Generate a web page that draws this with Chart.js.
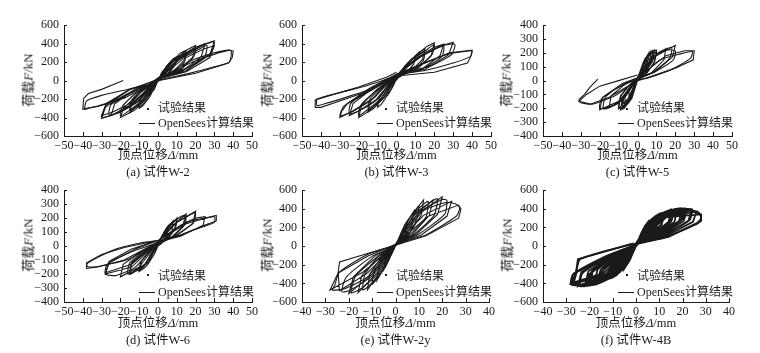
<!DOCTYPE html>
<html>
<head>
<meta charset="utf-8">
<script src="https://cdn.jsdelivr.net/npm/chart.js@4.4.0/dist/chart.umd.min.js"></script>
<style>
  body { margin: 0; background: #fff; width: 760px; height: 353px; overflow: hidden; position: relative;
         font-family: "Liberation Serif", "Noto Sans CJK SC", serif; color: #1a1a1a; }
  canvas { position: absolute; }
  .lbl { position: absolute; white-space: nowrap; line-height: 1; transform: translate(0, -50%); }
  .mid { transform: translate(-50%, -50%); }
  .rot { transform: translate(-50%, -50%) rotate(-90deg); }
  .dot { position: absolute; width: 2px; height: 2px; background: #1a1a1a; }
  .dash { position: absolute; height: 0; border-top: 1px solid #1a1a1a; }
</style>
</head>
<body>
<script>
// panel captions, axis ranges and legend names
const captions = ['(a) 试件W-2', '(b) 试件W-3', '(c) 试件W-5', '(d) 试件W-6', '(e) 试件W-2y', '(f) 试件W-4B'];
const xLimits = [50, 50, 50, 50, 40, 40];
const yLimits = [600, 600, 400, 400, 600, 600];
const yStep = [200, 200, 100, 100, 200, 200];
const seriesNames = ['试验结果', 'OpenSees计算结果'];

// hysteresis curves, [displacement mm, load kN]
const w2Test = [[0,0],[2,90],[4,135],[5,150],[4.6,100],[2.5,40],[0,0],[-2,-95],[-4,-145],[-5,-160],[-4.6,-105],[-2.5,-40],[0,10],
  [4.5,155],[8,235],[10,260],[9.2,170],[5,65],[0,5],[-4.5,-180],[-8,-270],[-10,-300],[-9.2,-195],[-5,-75],[0,10],
  [7,200],[12,300],[15,330],[13.8,215],[7.5,85],[0,10],[-7,-210],[-12,-315],[-15,-350],[-13.8,-230],[-7.5,-90],[0,15],
  [9,230],[16,340],[20,380],[18.4,250],[10,95],[0,15],[-9,-240],[-16,-360],[-20,-400],[-18.4,-300],[-10,-140],[0,10],
  [11,240],[20,360],[25,400],[23,260],[12.5,100],[0,20],[-11,-230],[-20,-340],[-25,-380],[-23,-250],[-12.5,-95],[0,20],
  [13,260],[24,390],[30,430],[27.6,280],[15,110],[0,20],[-13,-245],[-24,-370],[-30,-410],[-27.6,-265],[-15,-100],[0,15],
  [13,230],[24,340],[30,380],[27.6,250],[15,95],[0,15],[-13,-230],[-24,-340],[-30,-380],[-27.6,-250],[-15,-95],[0,10],
  [18,200],[32,300],[38,330],[40,320],[39.5,250],[37.5,190],[20,80],[0,0],[-18,-190],[-32,-280],[-38,-300],[-40,-310],
  [-39.5,-190],[-37,-140],[-30,-95],[-24,-45],[-18.5,0]];
const w2Sim = [[0,0],[3,110],[6,190],[10,255],[9,180],[5,70],[0,10],[-4,-140],[-7,-230],[-10,-290],[-9,-190],[-5,-70],[0,20],
  [8,200],[15,300],[20,360],[19,260],[12,120],[0,30],[-8,-200],[-15,-320],[-20,-380],[-19,-280],[-12,-140],[0,20],
  [12,240],[22,360],[29,420],[30,410],[28,300],[16,140],[0,30],[-12,-230],[-22,-350],[-29,-400],[-30,-390],[-28,-290],[-16,-140],[0,10],
  [16,200],[28,290],[37,330],[39,320],[38,200],[30,150],[15,70],[0,0],[-15,-140],[-28,-250],[-37,-300],[-39,-310],[-38,-220],
  [-30,-160],[-15,-90],[0,-10],
  [10,210],[20,320],[26,380],[25,270],[14,120],[0,20],[-10,-220],[-20,-340],[-26,-370],[-25,-260],[-13,-120],[0,10],
  [6,170],[12,270],[15,300],[14,200],[7,70],[0,10],[-6,-180],[-12,-290],[-15,-320],[-14,-210],[-7,-80],[0,0]];

const w3Test = [[0,0],[2,80],[4,140],[5,160],[4.6,110],[2.5,50],[0,20],[-2,-70],[-4,-140],[-5,-160],[-4.6,-100],[-2.5,-30],[0,30],
  [4.5,160],[8,235],[10,260],[9.2,180],[5,80],[0,30],[-4.5,-150],[-8,-255],[-10,-290],[-9.2,-190],[-5,-70],[0,40],
  [7,210],[12,310],[15,340],[13.8,230],[7.5,100],[0,40],[-7,-190],[-12,-300],[-15,-340],[-13.8,-220],[-7.5,-80],[0,50],
  [9,250],[16,370],[20,410],[18.4,270],[10,110],[0,50],[-9,-220],[-16,-350],[-20,-400],[-18.4,-260],[-10,-90],[0,60],
  [11,250],[20,360],[25,395],[23,270],[12.5,110],[0,60],[-11,-210],[-20,-330],[-25,-380],[-23,-250],[-12.5,-80],[0,60],
  [13,260],[24,380],[30,415],[27.6,280],[15,120],[0,60],[-13,-200],[-24,-340],[-30,-400],[-29,-330],[-26,-250],[-14,-80],[0,70],
  [16,200],[28,300],[36,320],[40,330],[39.5,270],[37.5,190],[20,90],[0,50],[-16,-120],[-30,-220],[-40,-290],[-43,-290],
  [-43,-210],[-35,-160],[-20,-70],[-5,40],[0,90]];
const w3Sim = [[0,30],[8,220],[15,320],[20,390],[19,290],[12,150],[0,60],[-8,-190],[-15,-310],[-20,-380],[-19,-270],[-12,-130],[0,50],
  [12,250],[22,360],[30,400],[31,380],[29,280],[17,150],[0,70],[-12,-190],[-22,-320],[-29,-380],[-30,-380],[-28,-280],[-16,-120],[0,60],
  [16,200],[28,290],[38,320],[40,320],[39,260],[30,190],[15,110],[0,60],[-15,-100],[-28,-190],[-38,-250],[-42,-270],[-42,-200],
  [-30,-130],[-15,-50],[0,60],
  [10,230],[20,340],[25,370],[24,260],[13,120],[0,60],[-10,-200],[-20,-330],[-25,-360],[-24,-240],[-12,-90],[0,50],
  [6,190],[12,290],[15,320],[14,210],[7,90],[0,40],[-6,-170],[-12,-280],[-15,-320],[-14,-200],[-7,-60],[0,40]];

const w5Test = [[0,0],[1.5,60],[3,120],[2.5,60],[0,0],[-1.5,-55],[-3,-110],[-2.5,-55],[0,10],
  [2.5,100],[5,170],[4.5,90],[2,20],[0,0],[-2.5,-90],[-5,-160],[-4.5,-80],[-2,-20],[0,10],
  [3.5,130],[7,210],[6.5,130],[3,40],[0,10],[-4,-120],[-8,-195],[-7.5,-110],[-3,-30],[0,20],
  [4,150],[8,215],[7.5,150],[4,60],[0,10],[-4,-140],[-8,-205],[-7.5,-130],[-4,-50],[0,10],
  [3,130],[6,200],[5.5,140],[2.5,50],[0,0],[-3,-130],[-7,-200],[-6.5,-120],[-3,-40],[0,10],
  [5,140],[10,210],[9,130],[4,40],[0,15],[-5,-130],[-10,-200],[-9,-110],[-4,-30],[0,20],
  [4,160],[9,220],[8,140],[3,40],[0,10],[-5,-150],[-9,-210],[-8,-130],[-3,-30],[0,20],
  [8,160],[15,230],[14,150],[7,50],[0,10],[-8,-140],[-15,-195],[-14,-110],[-6,-20],[0,20],
  [10,180],[20,255],[18.5,170],[9,60],[0,10],[-10,-150],[-20,-210],[-18.5,-120],[-8,-20],[0,20],
  [15,180],[25,215],[30,215],[29.5,150],[20,90],[5,20],[0,0],[-15,-120],[-25,-170],[-31,-150],[-27,-100],[-20,-40],[-10,0],[0,40]];
const w5Sim = [[0,0],[4,150],[8,210],[7,130],[3,40],[0,10],[-4,-130],[-8,-195],[-7,-110],[-3,-30],[0,20],
  [8,170],[15,220],[20,215],[19,150],[10,70],[0,10],[-8,-140],[-15,-190],[-20,-200],[-19,-130],[-10,-50],[0,20],
  [5,160],[10,220],[9,140],[4,40],[0,0],[-5,-150],[-10,-205],[-9,-120],[-4,-30],[0,20],
  [10,190],[18,240],[17,160],[8,60],[0,10],[-10,-160],[-18,-205],[-17,-120],[-8,-30],[0,10],
  [12,150],[22,190],[29,210],[28,160],[18,80],[6,20],[0,0],[-12,-110],[-24,-170],[-30,-160],[-31,-140],[-28,-100],[-25,-45],[-21,10]];

const w6Test = [[0,0],[2,60],[5,120],[4.5,70],[2,20],[0,0],[-2,-60],[-5,-120],[-4.5,-70],[-2,-20],[0,10],
  [4,110],[8,180],[7.5,110],[4,40],[0,10],[-5,-110],[-10,-180],[-9,-110],[-4,-30],[0,20],
  [5,120],[10,200],[9,130],[4,50],[0,20],[-7,-130],[-15,-200],[-14,-120],[-6,-30],[0,30],
  [8,150],[15,230],[14,150],[7,60],[0,30],[-10,-150],[-20,-220],[-18.5,-130],[-8,-30],[0,30],
  [10,170],[20,250],[18.5,160],[9,70],[0,30],[-14,-150],[-28,-200],[-26,-120],[-12,-20],[0,40],
  [12,150],[20,200],[25,210],[24,150],[12,70],[0,30],[-14,-130],[-28,-190],[-26,-110],[-14,-20],[0,40],
  [15,160],[25,200],[31,220],[31,180],[25,150],[12,80],[0,30],[-18,-100],[-32,-150],[-38,-160],[-38,-120],[-30,-60],[-18,-10],[0,40]];
const w6Sim = [[0,20],[6,150],[12,210],[15,220],[14,150],[7,60],[0,20],[-7,-130],[-13,-190],[-15,-200],[-14,-120],[-6,-30],[0,30],
  [10,170],[18,230],[20,240],[19,170],[10,80],[0,30],[-12,-150],[-22,-210],[-28,-200],[-27,-130],[-14,-40],[0,30],
  [8,170],[14,220],[13,140],[6,50],[0,20],[-8,-150],[-16,-200],[-15,-120],[-7,-30],[0,30],
  [5,140],[10,190],[9,120],[4,40],[0,20],[-6,-140],[-10,-180],[-9,-110],[-4,-30],[0,20],
  [15,170],[25,200],[30,210],[30,170],[22,130],[10,70],[0,30],[-15,-90],[-30,-140],[-37,-150],[-38,-130],[-32,-80],[-22,-20],[-10,20],[0,40]];

const w2yTest = [[0,0],[1.5,80],[3,150],[2.5,80],[1,20],[0,0],[-1.5,-80],[-3,-150],[-2.5,-80],[-1,-20],[0,0],
  [2.5,140],[5,250],[4.5,140],[2,40],[0,0],[-2.5,-130],[-5,-250],[-4.5,-140],[-2,-40],[0,0],
  [4,220],[8,380],[7,220],[3.5,80],[0,10],[-4,-200],[-8,-370],[-7,-210],[-3.5,-70],[0,10],
  [6,300],[12,495],[11,330],[5.5,120],[0,20],[-6,-260],[-12,-470],[-11,-300],[-5.5,-100],[0,20],
  [8,330],[16,495],[14.5,330],[7,120],[0,20],[-8,-290],[-16,-500],[-14.5,-320],[-7,-100],[0,20],
  [10,350],[20,530],[18,340],[9,130],[0,20],[-10,-300],[-20,-510],[-18,-330],[-9,-110],[0,20],
  [12,330],[24,480],[22,320],[11,120],[0,20],[-12,-290],[-24,-480],[-24.5,-290],[-12,-110],[0,20],
  [14,320],[27,440],[28,400],[27,300],[13,110],[0,10],[-14,-280],[-28,-470],[-24.6,-292],[-23.9,-170],[-12,-80],[0,10]];
const w2ySim = [[0,0],[4,230],[8,370],[10,430],[9,280],[5,110],[0,10],[-4,-210],[-8,-350],[-10,-410],[-9,-270],[-5,-100],[0,10],
  [8,340],[15,470],[18,510],[16.5,330],[8,130],[0,20],[-8,-310],[-15,-460],[-19,-500],[-17,-320],[-8,-120],[0,20],
  [6,300],[12,450],[14,480],[13,310],[6,120],[0,20],[-6,-280],[-12,-440],[-14,-470],[-13,-300],[-6,-100],[0,20],
  [10,360],[20,500],[22,490],[21,340],[10,130],[0,10],[-10,-320],[-20,-480],[-23,-490],[-21,-330],[-10,-110],[0,10],
  [12,380],[22,470],[26,450],[27.5,410],[26,320],[13,120],[0,10],[-12,-330],[-22,-460],[-27,-470],[-26,-420],[-24,-280],[-12,-90],[0,10]];

const w4bTest = [[0,0],[1.5,80],[3,150],[2.5,70],[0,0],[-1.5,-80],[-3,-150],[-2.5,-70],[0,0],
  [2.5,150],[5,250],[4.5,150],[2,50],[0,10],[-2.5,-140],[-5,-240],[-4.5,-140],[-2,-40],[0,10],
  [4,200],[8,310],[7.5,200],[3.5,70],[0,10],[-4,-190],[-8,-300],[-7.5,-180],[-3.5,-60],[0,10],
  [5,230],[10,340],[9,210],[4.5,80],[0,20],[-5,-210],[-10,-330],[-9,-200],[-4.5,-70],[0,20],
  [6,250],[12,360],[11,230],[5,90],[0,20],[-6,-230],[-12,-350],[-11,-220],[-5,-80],[0,20],
  [7,270],[15,390],[14,250],[6,90],[0,20],[-7,-250],[-15,-380],[-14,-240],[-6,-80],[0,20],
  [8,290],[18,395],[16.5,260],[8,100],[0,20],[-9,-270],[-18,-400],[-16.5,-250],[-8,-90],[0,20],
  [9,300],[20,400],[18.5,270],[9,100],[0,20],[-10,-280],[-20,-420],[-18.5,-260],[-9,-90],[0,20],
  [10,300],[22,390],[20.5,270],[10,100],[0,20],[-11,-290],[-22,-430],[-20.5,-270],[-10,-90],[0,20],
  [11,310],[24,390],[22.5,270],[11,100],[0,20],[-12,-300],[-25,-430],[-23.5,-280],[-11,-100],[0,20],
  [12,310],[26,370],[24.5,260],[12,100],[0,20],[-13,-300],[-27,-410],[-25.5,-280],[-12,-100],[0,20],
  [9,320],[17,400],[21,405],[20,290],[10,130],[0,30],[-9,-300],[-17,-410],[-21,-425],[-20,-300],[-10,-120],[0,30],
  [7,290],[14,380],[16,385],[15,280],[7,120],[0,30],[-7,-280],[-14,-380],[-16,-400],[-15,-280],[-7,-110],[0,30],
  [13,310],[28,340],[28,270],[14,100],[0,20],[-14,-290],[-28,-400],[-26,-320],[-25,-140],[-1,30]];
const w4bSim = [[0,0],[4,220],[9,330],[12,360],[11,240],[5,80],[0,20],[-4,-200],[-9,-320],[-12,-350],[-11,-220],[-5,-70],[0,20],
  [8,300],[16,390],[20,400],[19,270],[9,100],[0,20],[-8,-280],[-16,-390],[-20,-420],[-19,-270],[-9,-90],[0,20],
  [6,260],[13,370],[16,390],[15,260],[7,100],[0,20],[-6,-240],[-13,-360],[-16,-390],[-15,-250],[-7,-90],[0,20],
  [10,300],[19,390],[24,395],[23,280],[11,110],[0,20],[-10,-290],[-19,-410],[-24,-430],[-23,-290],[-11,-100],[0,20],
  [12,320],[24,380],[28,330],[27,250],[13,100],[0,20],[-12,-300],[-24,-420],[-28,-410],[-27,-300],[-13,-110],[0,20],
  [3,170],[6,270],[5,160],[2,50],[0,10],[-3,-160],[-6,-260],[-5,-160],[-2,-50],[0,10],
  [11,320],[22,390],[27,360],[28,300],[26,240],[12,90],[0,20],[-11,-300],[-22,-420],[-27,-410],[-28,-380],[-26,-300],[-24,-140],[-2,20]];

const testCurves = [w2Test, w3Test, w5Test, w6Test, w2yTest, w4bTest];
const simCurves = [w2Sim, w3Sim, w5Sim, w6Sim, w2ySim, w4bSim];

// plot-area boxes on the page (left, right, top, bottom) and label offsets
const frames = [
  { L: 64,  R: 252, T: 23,  B: 136, yt: 36, row: 0 },
  { L: 302, R: 491, T: 23,  B: 136, yt: 35, row: 0 },
  { L: 543, R: 732, T: 23,  B: 136, yt: 37, row: 0 },
  { L: 64,  R: 252, T: 188, B: 302, yt: 36, row: 1 },
  { L: 302, R: 489, T: 188, B: 302, yt: 35, row: 1 },
  { L: 543, R: 729, T: 188, B: 302, yt: 36, row: 1 }
];
const rowOffsets = [
  { leg1: -28, leg2: -13, xt: 19, cap: 36 },
  { leg1: -26, leg2: -10, xt: 21, cap: 37.5 }
];
const AXW = 62, AXH = 22, PADT = 10, PADR = 12;
const ink = '#1a1a1a';
const tickFont = { family: 'Liberation Serif', size: 12 };

const innerTicks = {
  id: 'innerTicks',
  afterDraw(chart) {
    const { ctx, chartArea: a, scales: { x, y } } = chart;
    ctx.save();
    ctx.strokeStyle = ink;
    ctx.lineWidth = 1;
    ctx.beginPath();
    x.ticks.forEach(t => {
      const p = Math.round(x.getPixelForValue(t.value)) + 0.5;
      ctx.moveTo(p, a.bottom); ctx.lineTo(p, a.bottom - 4);
    });
    y.ticks.forEach(t => {
      const p = Math.round(y.getPixelForValue(t.value)) + 0.5;
      ctx.moveTo(a.left, p); ctx.lineTo(a.left + 3, p);
    });
    ctx.stroke();
    ctx.restore();
  }
};

function addDiv(cls, html, x, y, css) {
  const d = document.createElement('div');
  d.className = cls;
  d.innerHTML = html;
  d.style.left = x + 'px';
  d.style.top = y + 'px';
  if (css) Object.assign(d.style, css);
  document.body.appendChild(d);
  return d;
}

const minus = v => String(v).replace('-', '\u2212');

frames.forEach((f, i) => {
  const cv = document.createElement('canvas');
  cv.width = (f.R - f.L) + AXW + PADR;
  cv.height = (f.B - f.T) + PADT + AXH;
  cv.style.left = (f.L - AXW) + 'px';
  cv.style.top = (f.T - PADT) + 'px';
  document.body.appendChild(cv);

  const toXY = p => ({ x: p[0], y: p[1] });
  const lw = i === 5 ? 1.8 : 1.1;
  new Chart(cv, {
    type: 'scatter',
    data: {
      datasets: [
        { label: seriesNames[0], data: testCurves[i].map(toXY), showLine: true, borderColor: ink,
          borderWidth: lw, pointRadius: 0, tension: 0 },
        { label: seriesNames[1], data: simCurves[i].map(toXY), showLine: true, borderColor: ink,
          borderWidth: lw, pointRadius: 0, tension: 0.2 }
      ]
    },
    options: {
      responsive: false,
      animation: false,
      events: [],
      layout: { padding: { top: PADT, right: PADR, left: 0, bottom: 0 } },
      plugins: { legend: { display: false }, tooltip: { enabled: false } },
      scales: {
        x: {
          type: 'linear', min: -xLimits[i], max: xLimits[i],
          grid: { display: false, drawTicks: false },
          border: { display: true, color: ink, width: 1 },
          ticks: { stepSize: 10, autoSkip: false, maxRotation: 0, padding: 3, color: ink, font: tickFont, callback: minus },
          afterFit: s => { s.height = AXH; }
        },
        y: {
          min: -yLimits[i], max: yLimits[i],
          grid: { display: false, drawTicks: false },
          border: { display: true, color: ink, width: 1 },
          ticks: { stepSize: yStep[i], autoSkip: false, padding: 5, color: ink, font: tickFont, callback: minus },
          afterFit: s => { s.width = AXW; }
        }
      }
    },
    plugins: [innerTicks]
  });

  const r = rowOffsets[f.row];
  const cx = (f.L + f.R) / 2;
  addDiv('lbl rot', '荷载<i>F</i>/kN', f.L - f.yt, (f.T + f.B) / 2, { fontSize: '13px' });
  addDiv('lbl mid', '顶点位移<i>Δ</i>/mm', cx, f.B + r.xt, { fontSize: '12.5px' });
  addDiv('lbl mid', captions[i], cx, f.B + r.cap, { fontSize: '12.5px' });
  addDiv('dot', '', f.L + 83, f.B - 28);
  addDiv('lbl', seriesNames[0], f.L + 94, f.B + r.leg1, { fontSize: '12px' });
  addDiv('dash', '', f.L + 75, f.B + r.leg2, { width: '16px' });
  addDiv('lbl', seriesNames[1], f.L + 94, f.B + r.leg2, { fontSize: '12px' });
});
</script>
</body>
</html>
